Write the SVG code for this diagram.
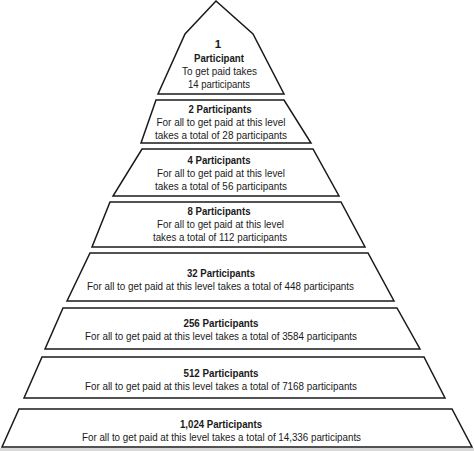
<svg xmlns="http://www.w3.org/2000/svg" width="474" height="451" viewBox="0 0 474 451">
<style>
.lvl{fill:#fff;stroke:#1a1a1a;stroke-width:1.5;stroke-linejoin:miter}
text{font-family:"Liberation Sans",Arial,sans-serif;font-size:11.5px;fill:#1a1a1a;text-anchor:middle}
.t{font-weight:bold}
</style>
<rect width="474" height="451" fill="#fff"/>
<rect x="0" y="448" width="474" height="3" fill="#d9d9d9"/>
<g id="level1">
<polygon class="lvl" points="216,1 185,34 158,94 284,94 253,34"/>
<text class="t" x="218" y="48">1</text>
<text class="t" x="219" y="62" textLength="50" lengthAdjust="spacingAndGlyphs">Participant</text>
<text x="219.5" y="75" textLength="75" lengthAdjust="spacingAndGlyphs">To get paid takes</text>
<text x="219" y="88" textLength="62" lengthAdjust="spacingAndGlyphs">14 participants</text>
</g>
<g id="level2">
<polygon class="lvl" points="156,100 284,100 311,143 141,143"/>
<text class="t" x="220" y="113" textLength="63" lengthAdjust="spacingAndGlyphs">2 Participants</text>
<text x="221" y="126" textLength="129" lengthAdjust="spacingAndGlyphs">For all to get paid at this level</text>
<text x="221" y="139" textLength="132" lengthAdjust="spacingAndGlyphs">takes  a total of 28 participants</text>
</g>
<g id="level3">
<polygon class="lvl" points="142,149 313,149 339,196 113,196"/>
<text class="t" x="219" y="164" textLength="63" lengthAdjust="spacingAndGlyphs">4 Participants</text>
<text x="221" y="177" textLength="128" lengthAdjust="spacingAndGlyphs">For all to get paid at this level</text>
<text x="221" y="190" textLength="132" lengthAdjust="spacingAndGlyphs">takes a total of 56 participants</text>
</g>
<g id="level4">
<polygon class="lvl" points="110,202 341,202 365,247 92,247"/>
<text class="t" x="219" y="215" textLength="63" lengthAdjust="spacingAndGlyphs">8 Participants</text>
<text x="220.5" y="228" textLength="127" lengthAdjust="spacingAndGlyphs">For all to get paid at this level</text>
<text x="220" y="241" textLength="134" lengthAdjust="spacingAndGlyphs">takes a total of 112 participants</text>
</g>
<g id="level5">
<polygon class="lvl" points="90,253 368,253 394,301 67,301"/>
<text class="t" x="221" y="277" textLength="68" lengthAdjust="spacingAndGlyphs">32 Participants</text>
<text x="220.5" y="290" textLength="267" lengthAdjust="spacingAndGlyphs">For all to get paid at this level takes a total of 448 participants</text>
</g>
<g id="level6">
<polygon class="lvl" points="63,308 397,308 420,349 45,349"/>
<text class="t" x="221" y="327" textLength="75" lengthAdjust="spacingAndGlyphs">256 Participants</text>
<text x="221" y="340" textLength="272" lengthAdjust="spacingAndGlyphs">For all to get paid at this level takes a total of 3584 participants</text>
</g>
<g id="level7">
<polygon class="lvl" points="42,357 424,357 445,398 24,398"/>
<text class="t" x="221" y="377" textLength="75" lengthAdjust="spacingAndGlyphs">512 Participants</text>
<text x="221" y="390" textLength="272" lengthAdjust="spacingAndGlyphs">For all to get paid at this level takes a total of 7168 participants</text>
</g>
<g id="level8">
<polygon class="lvl" points="19,409 452,409 472,447 2,447"/>
<text class="t" x="221" y="428" textLength="82" lengthAdjust="spacingAndGlyphs">1,024 Participants</text>
<text x="221.5" y="441" textLength="279" lengthAdjust="spacingAndGlyphs">For all to get paid at this level takes a total of 14,336 participants</text>
</g>
<g id="connectors"></g>
</svg>
